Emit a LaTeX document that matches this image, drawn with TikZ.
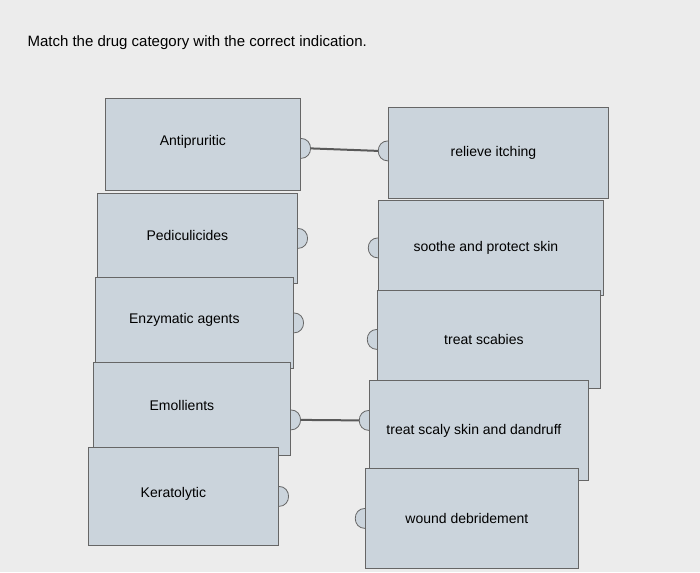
\documentclass[tikz,border=0pt]{standalone}
\usepackage{fontspec}
\setmainfont{Liberation Sans}
\usetikzlibrary{calc}
\begin{document}
\begin{tikzpicture}[x=1pt,y=-1pt,
  card/.style={draw=gray!80!black,fill=cardblue,line width=0.8pt,rectangle,anchor=north west,inner sep=0pt},
  tabline/.style={draw=gray!80!black,fill=cardblue,line width=0.8pt},
  link/.style={draw=gray!70!black,line width=2pt}]
\definecolor{cardblue}{HTML}{CBD4DC}
\definecolor{bg}{HTML}{ECECEC}
\useasboundingbox (0,0) rectangle (700,572);
\fill[bg] (0,0) rectangle (700,572);
\node[anchor=west,font=\fontsize{15}{17}\selectfont] (title) at (24,43) {Match the drug category with the correct indication.};
\foreach \n/\x/\y/\w/\h/\t/\o in {l1/105/98/195/92/Antipruritic/4,l2/97/193/200/90/Pediculicides/0,l3/95/277/198/91/Enzymatic agents/0,l4/93/362/197/93/Emollients/11,l5/88/447/190/98/Keratolytic/0}{
  \node[card,minimum width=\w pt,minimum height=\h pt] (\n) at (\x,\y) {};
  \node[font=\fontsize{14}{16}\selectfont] (\n t) at ($(\n.center)+(-10,-3)$) {\t};
  \draw[tabline] ($(\n.east)+(0,\o-10)$) .. controls +(13,0) and +(13,0) .. ($(\n.east)+(0,\o+10)$);
}
\foreach \n/\x/\y/\w/\h/\t/\o in {r1/388/107/220/91/relieve itching/-2,r2/378/200/225/95/soothe and protect skin/0,r3/377/290/223/98/treat scabies/0,r4/369/380/219/100/treat scaly skin and dandruff/-10,r5/365/468/213/100/wound debridement/0}{
  \node[card,minimum width=\w pt,minimum height=\h pt] (\n) at (\x,\y) {};
  \node[font=\fontsize{14}{16}\selectfont] (\n t) at ($(\n.center)+(-5,0)$) {\t};
  \draw[tabline] ($(\n.west)+(0,\o-10)$) .. controls +(-13,0) and +(-13,0) .. ($(\n.west)+(0,\o+10)$);
}
\draw[link] ($(l1.east)+(10,4)$) -- ($(r1.west)+(-10,-2)$);
\draw[link] ($(l4.east)+(10,11)$) -- ($(r4.west)+(-10,-10)$);
\end{tikzpicture}
\end{document}
